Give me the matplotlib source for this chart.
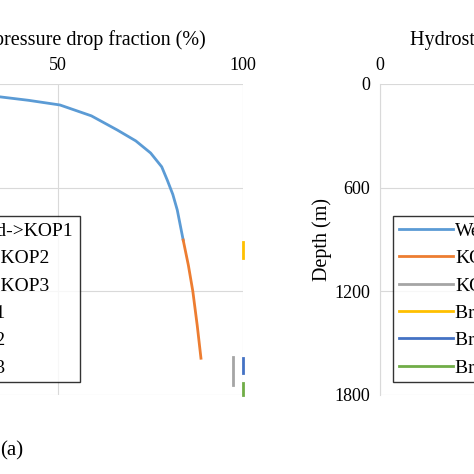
import matplotlib.pyplot as plt

plt.rcParams["font.family"] = ["Liberation Serif", "DejaVu Serif"]

# segments: fraction (%) vs depth (m)
wh_frac = [34.3, 42, 50.5, 59, 66, 71, 75, 78, 79.5, 81, 82.2, 83.8]
wh_depth = [75, 95, 122, 185, 267, 330, 400, 480, 557, 640, 730, 904]
k12_frac = [83.8, 85.2, 86.4, 87.6, 88.6]
k12_depth = [904, 1050, 1200, 1400, 1588]
k23_frac = [97.3, 97.3]
k23_depth = [1583, 1745]
b1_frac = [100, 100]
b1_depth = [916, 1009]
b2_frac = [100, 100]
b2_depth = [1588, 1675]
b3_frac = [100, 100]
b3_depth = [1733, 1800]

labels = ["Wellhead->KOP1", "KOP1->KOP2", "KOP2->KOP3", "Branch 1", "Branch 2", "Branch 3"]
colors = ["#5b9bd5", "#ed7d31", "#a5a5a5", "#ffc000", "#4472c4", "#70ad47"]
depth_ticks = [0, 600, 1200, 1800]

fig = plt.figure(figsize=(4.74, 4.74), dpi=100)
ax1 = fig.add_axes([-0.268, 0.167, 0.781, 0.656])
ax2 = fig.add_axes([0.802, 0.167, 0.781, 0.656])

segs = [(wh_frac, wh_depth), (k12_frac, k12_depth), (k23_frac, k23_depth),
        (b1_frac, b1_depth), (b2_frac, b2_depth), (b3_frac, b3_depth)]

for ax, title in [(ax1, "Frictional pressure drop fraction (%)"),
                  (ax2, "Hydrostatic pressure drop fraction (%)")]:
    for (x, y), lab, c in zip(segs, labels, colors):
        if ax is ax1:
            ax.plot(x, y, color=c, lw=2, label=lab, clip_on=False)
        else:
            ax.plot([], [], color=c, lw=2, label=lab)
    ax.set_xlim(0, 100)
    ax.set_ylim(1800, 0)
    ax.set_xticks([0, 50, 100])
    ax.set_yticks(depth_ticks)
    ax.xaxis.tick_top()
    ax.xaxis.set_label_position("top")
    ax.set_xlabel(title, fontsize=14.5, labelpad=9)
    ax.set_ylabel("Depth (m)", fontsize=14.5, labelpad=2)
    ax.tick_params(length=0, labelsize=13, pad=7)
    ax.grid(color="#d9d9d9", lw=0.8)
    for s in ax.spines.values():
        s.set_visible(False)
    ax.spines["left"].set_visible(True)
    ax.spines["left"].set_color("#d9d9d9")

leg_kw = dict(frameon=True, fancybox=False, edgecolor="black", fontsize=14,
              handlelength=2.8, handletextpad=0.1, borderaxespad=0,
              labelspacing=0.5, borderpad=0.3)
ax1.legend(loc="lower right", bbox_to_anchor=(0.559, 0.04), **leg_kw)
ax2.legend(loc="lower left", bbox_to_anchor=(0.035, 0.04), **leg_kw)

fig.text(0.0, 0.04, "(a)", fontsize=15)

fig.savefig("out.png", dpi=100)
